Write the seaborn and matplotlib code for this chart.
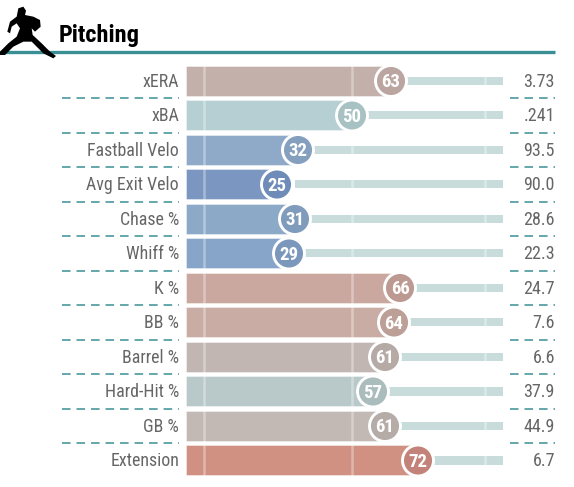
import matplotlib
matplotlib.use("Agg")
import matplotlib.pyplot as plt
from matplotlib.patches import Polygon
from matplotlib import font_manager as fm
import pandas as pd
import seaborn as sns

# Pitching percentile summary
metrics = ["xERA", "xBA", "Fastball Velo", "Avg Exit Velo", "Chase %", "Whiff %",
           "K %", "BB %", "Barrel %", "Hard-Hit %", "GB %", "Extension"]
percentiles = [63, 50, 32, 25, 31, 29, 66, 64, 61, 57, 61, 72]
stat_labels = ["3.73", ".241", "93.5", "90.0", "28.6", "22.3",
               "24.7", "7.6", "6.6", "37.9", "44.9", "6.7"]
bar_colors = ["#c4b0aa", "#b5cfd2", "#8fa9c8", "#7b96c0", "#8caac8", "#87a5c8",
              "#caa89f", "#c9ada5", "#c1b6b2", "#b9c9c9", "#c2b8b4", "#d09182"]
dot_colors = ["#bba5a0", "#a8c2c4", "#85a0bf", "#6f8cb9", "#7f9cbc", "#7b97bb",
              "#bd9a91", "#bc9f97", "#b5aaa6", "#abbcbc", "#b5aba7", "#c3837a"]
guide_positions = [0.7, 50, 94.4]

W, H = 574, 487
TEAL = "#3a8f94"
GREY = "#666666"

names = {f.name for f in fm.fontManager.ttflist}
narrow = next((n for n in ["Roboto Condensed", "Liberation Sans Narrow", "Roboto"] if n in names), "DejaVu Sans")

sns.set_theme(style="white")
plt.rcParams["font.family"] = [narrow, "DejaVu Sans"]

fig = plt.figure(figsize=(W / 100, H / 100), dpi=100)
X0, X1, Y0, Y1 = 186, 503, 60, 487
ax = fig.add_axes([X0 / W, 1 - Y1 / H, (X1 - X0) / W, (Y1 - Y0) / H])

df = pd.DataFrame({"metric": metrics, "pct": percentiles})
XMIN, XMAX = -5.33, 100.33
PITCH = 34.5
df["filled"] = df["pct"] - XMIN
df["track_left"] = df["pct"] + 5.9
df["track"] = XMAX - df["track_left"]

# Background track to the right of each marker
sns.barplot(data=df, x="track", y="metric", hue="metric", palette=["#c8dcdc"] * 12,
            left=df["track_left"].to_numpy(), width=8 / PITCH, dodge=False, legend=False,
            saturation=1, linewidth=0, ax=ax)
# Filled bar up to the percentile
sns.barplot(data=df, x="filled", y="metric", hue="metric", palette=bar_colors,
            left=XMIN, width=30 / PITCH, dodge=False, legend=False, saturation=1,
            edgecolor="#ffffff66", linewidth=0.7, ax=ax)

for g in guide_positions:
    ax.axvline(g, color="white", alpha=0.35, lw=1.8, zorder=3)

# Percentile markers
sns.scatterplot(data=df, x="pct", y="metric", hue="metric", palette=dot_colors, s=498,
                edgecolor="white", linewidth=2.1, legend=False, zorder=4, clip_on=False, ax=ax)
for i, p in enumerate(percentiles):
    ax.text(p, i - 0.02, str(p), ha="center", va="center_baseline", color="white",
            fontsize=13.5, fontweight="bold", zorder=5)

ax.set_xlim(XMIN, XMAX)
ax.set_ylim(11 + (Y1 - 460.5) / PITCH, -(81 - Y0) / PITCH)
ax.set_xlabel("")
ax.set_ylabel("")
ax.set_xticks([])
ax.set_yticks([])
sns.despine(ax=ax, left=True, bottom=True)
ax.patch.set_alpha(0)

# Pixel-based overlay for header, row labels and separators
ov = fig.add_axes([0, 0, 1, 1], zorder=-1)
ov.set_xlim(0, W)
ov.set_ylim(H, 0)
ov.axis("off")
ov.plot([0, 555], [52.2, 52.2], color=TEAL, lw=2.4, solid_capstyle="butt")
for i in range(11):
    y = 81 + PITCH * (i + 0.5)
    ov.plot([62, 179], [y, y], color=TEAL, lw=1.1, dashes=(5.6, 3.9), dash_capstyle="butt")
    ov.plot([510, 555], [y, y], color=TEAL, lw=1.1, dashes=(5.6, 3.9), dash_capstyle="butt")
for i, (m, s) in enumerate(zip(metrics, stat_labels)):
    y = 79.6 + PITCH * i
    ov.text(179, y, m, ha="right", va="center_baseline", color=GREY, fontsize=12.9)
    ov.text(555, y, s, ha="right", va="center_baseline", color=GREY, fontsize=13)

top = fig.add_axes([0, 0, 1, 1], zorder=5)
top.set_xlim(0, W)
top.set_ylim(H, 0)
top.axis("off")
top.text(59, 33, "Pitching", ha="left", va="center_baseline", color="black",
         fontsize=17.6, fontweight="bold")

# Pitcher silhouette beside the heading
outline = [(55, 25), (70, 20), (78, 32), (75, 45), (100, 50), (120, 60), (122, 80), (105, 95),
           (95, 85), (98, 105), (125, 130), (150, 155), (168, 168), (160, 175), (130, 160),
           (95, 125), (70, 125), (40, 140), (15, 165), (0, 165), (0, 155), (25, 130), (50, 110),
           (60, 85), (50, 70), (35, 80), (30, 100), (22, 95), (30, 65), (50, 50)]
top.add_patch(Polygon([(x / 3, y / 3) for x, y in outline], closed=True, fc="black", ec="none"))

fig.savefig("out.png", dpi=100)
